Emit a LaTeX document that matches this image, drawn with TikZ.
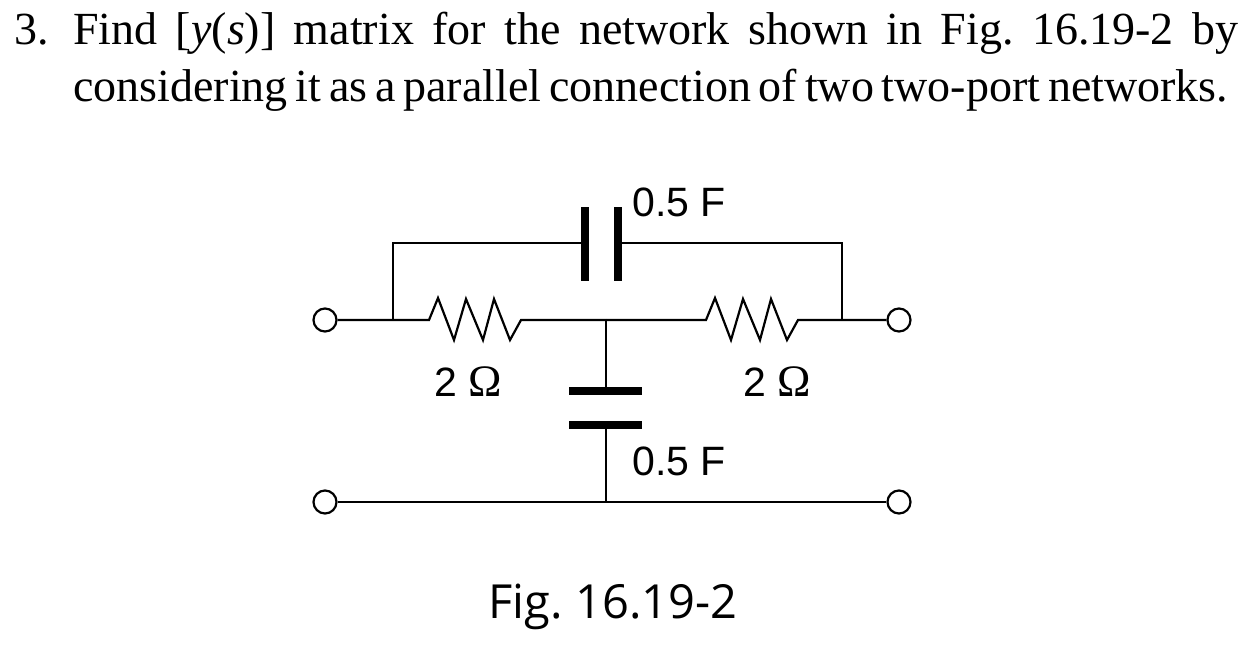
\documentclass[tikz,border=0pt]{standalone}
\usepackage{fontspec}
\setmainfont{Liberation Serif}
\newfontfamily\labelfont{Liberation Sans}
\newfontfamily\captionfont{Open Sans}
\usetikzlibrary{positioning}
\tikzstyle{wire} = [line width=2.2pt,black,line join=miter]
\tikzstyle{plate} = [line width=8pt,black]
\tikzstyle{terminal} = [circle, draw=black, line width=2.2pt, fill=white, minimum size=23pt, inner sep=0pt]
\tikzstyle{junction} = [inner sep=0pt, minimum size=0pt]
\tikzstyle{value} = [inner sep=0pt, font=\labelfont\fontsize{41}{41}\selectfont]
\tikzstyle{question} = [inner sep=0pt, anchor=base west, font=\fontsize{46}{46}\selectfont]
\frenchspacing

\begin{document}
\begin{tikzpicture}[x=1pt,y=-1pt]
\useasboundingbox (0,0) rectangle (1256,646);

\node (numberText) [question] at (14,44) {3.};
\node (lineOne) [question] at (73,44) {\hbox to 1165pt{\spaceskip=0.2em plus 1em minus 0.1em Find [\textit{y}(\textit{s})] matrix for the network shown in Fig. 16.19-2 by}};
\node (lineTwo) [question] at (73,101) {\hbox to 1155pt{\spaceskip=0.1em plus 1em minus 0.1em considering it as a parallel connection of two two-port networks.}};

\node (inLeft) [terminal] at (325,320) {};
\node (inRight) [terminal] at (899,320) {};
\node (outLeft) [terminal] at (325,502) {};
\node (outRight) [terminal] at (899,502) {};

\coordinate (topLeft) at (393,243);
\coordinate (topRight) at (842,243);
\coordinate (nodeLeft) at (393,320);
\coordinate (nodeRight) at (842,320);
\coordinate (middle) at (606,320);
\coordinate (bottom) at (606,502);
\node (plateTopA) [junction] at (585,243) {};
\node (plateTopB) [junction] at (618,243) {};
\node (plateDownA) [junction] at (606,391) {};
\node (plateDownB) [junction] at (606,425) {};

\draw [wire] (inLeft) -- (nodeLeft) -- (429,320) -- (438,298) -- (454,340) -- (466,299) -- (483,340) -- (494,299) -- (510,340) -- (521,320) -- (middle);
\draw [wire] (middle) -- (706,320) -- (715,298) -- (731,340) -- (743,299) -- (760,340) -- (771,299) -- (787,340) -- (798,320) -- (nodeRight) -- (inRight);
\draw [wire] (nodeLeft) -- (topLeft) -- (plateTopA);
\draw [wire] (plateTopB) -- (topRight) -- (nodeRight);
\draw [wire] (middle) -- (plateDownA);
\draw [wire] (plateDownB) -- (bottom);
\draw [wire] (outLeft) -- (bottom) -- (outRight);
\draw [plate] (585,207) -- (plateTopA) -- (585,281);
\draw [plate] (618,207) -- (plateTopB) -- (618,281);
\draw [plate] (569,391) -- (plateDownA) -- (642,391);
\draw [plate] (569,425) -- (plateDownB) -- (642,425);

\node (capTop) [value] at (679,202) {0.5 F};
\node (capDown) [value] at (679,461) {0.5 F};
\node (resLeft) [value] at (468,382) {2 {\rmfamily\fontsize{45}{45}\selectfont Ω}};
\node (resRight) [value] at (777,382) {2 {\rmfamily\fontsize{45}{45}\selectfont Ω}};
\node (figLabel) [inner sep=0pt, font=\captionfont\fontsize{47}{47}\selectfont] at (613,607) {Fig. 16.19-2};
\end{tikzpicture}
\end{document}
